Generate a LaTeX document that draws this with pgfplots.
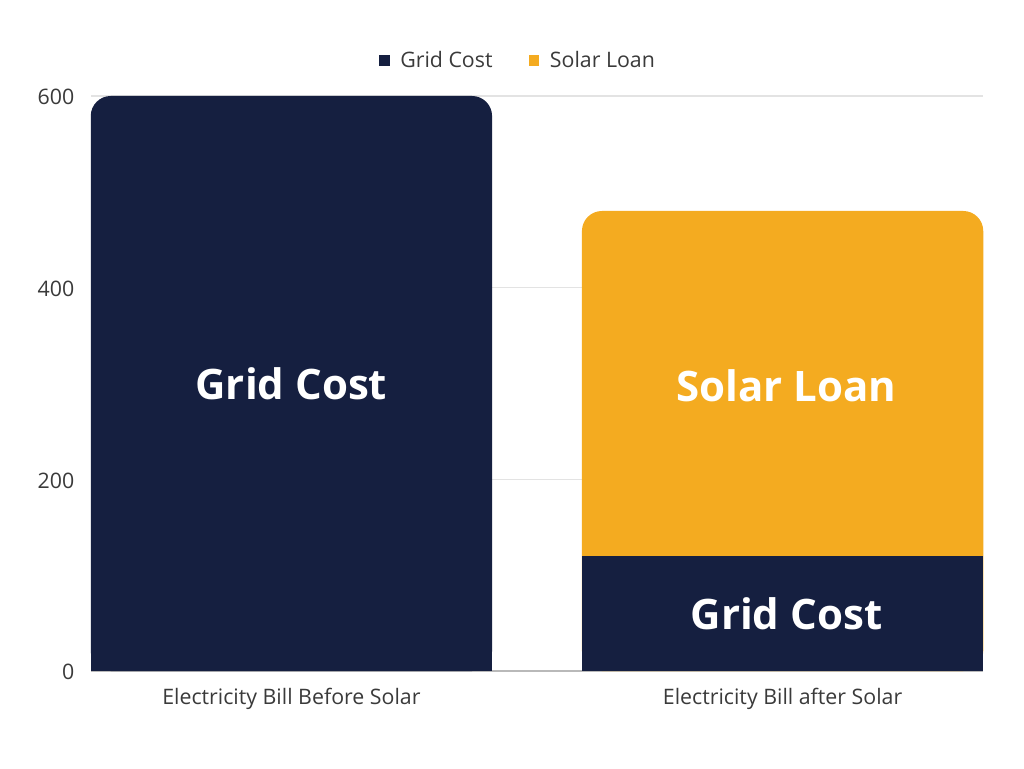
\documentclass[border=0pt]{standalone}
\usepackage{fontspec}
\setmainfont{Open Sans}
\usepackage{pgfplots}
\pgfplotsset{compat=1.18}
\definecolor{navy}{HTML}{151F40}
\definecolor{solar}{HTML}{F4AB20}
\definecolor{gridgray}{HTML}{E3E3E3}
\definecolor{labelgray}{HTML}{3A3A3A}
\begin{document}
\begin{tikzpicture}
\path[use as bounding box] (0pt,0pt) rectangle (768pt,576pt);
\begin{axis}[
  at={(68.25pt,72.75pt)}, anchor=south west,
  scale only axis, width=669pt, height=431.25pt,
  xmin=-0.408, xmax=1.408, ymin=0, ymax=600,
  clip=false,
  ybar, bar width=0.817,
  xtick={0,1},
  xticklabels={Electricity Bill Before Solar, Electricity Bill after Solar},
  ytick={0,200,400,600},
  /pgf/number format/assume math mode=true,
  ymajorgrids, grid style={gridgray, line width=0.8pt},
  axis x line*=bottom, axis y line*=left,
  y axis line style={draw=none},
  x axis line style={draw=gray!55, line width=0.8pt},
  major tick length=0pt, tick style={draw=none},
  ticklabel style={font=\fontsize{16}{19}\selectfont, text=labelgray},
  xticklabel style={yshift=-9.5pt},
  yticklabel style={xshift=-9pt, yshift=-1pt},
  legend style={at={(0.479,1.062)}, anchor=center, draw=none,
    font=\fontsize{16}{19}\selectfont, text=labelgray,
    /tikz/every odd column/.append style={column sep=6pt},
    /tikz/every even column/.append style={column sep=25pt}},
  legend columns=-1,
  legend image code/.code={\fill[#1, sharp corners] (0pt,-4pt) rectangle (8pt,4pt);},
]
\addplot[fill=navy, draw=none, rounded corners=15pt, bar shift=0pt] coordinates {(0,600)};
\addlegendentry{Grid Cost}
\addplot[forget plot, fill=navy, draw=none, bar shift=0pt] coordinates {(0,560)};
\addplot[fill=solar, draw=none, rounded corners=15pt, bar shift=0pt] coordinates {(1,480)};
\addlegendentry{Solar Loan}
\addplot[forget plot, fill=solar, draw=none, bar shift=0pt] coordinates {(1,440)};
\addplot[forget plot, fill=navy, draw=none, bar shift=0pt] coordinates {(1,120)};
\node[text=white, font=\bfseries\fontsize{31.5}{36}\selectfont] at (axis cs:0,300) {Grid Cost};
\node[text=white, font=\bfseries\fontsize{31.5}{36}\selectfont] at (axis cs:1.008,298) {Solar Loan};
\node[text=white, font=\bfseries\fontsize{31.5}{36}\selectfont] at (axis cs:1.008,60) {Grid Cost};
\end{axis}
\end{tikzpicture}
\end{document}
